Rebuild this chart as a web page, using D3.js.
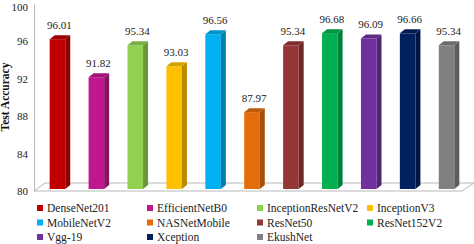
<!DOCTYPE html>
<html>
<head>
<meta charset="utf-8">
<script src="https://cdn.jsdelivr.net/npm/d3@7"></script>
<style>
  body { margin: 0; background: #fff; }
  svg { display: block; font-family: "Liberation Serif", "Times New Roman", serif; }
</style>
</head>
<body>
<svg id="chart"></svg>
<script>
const models = [
  "DenseNet201", "EfficientNetB0", "InceptionResNetV2", "InceptionV3",
  "MobileNetV2", "NASNetMobile", "ResNet50", "ResNet152V2",
  "Vgg-19", "Xception", "EkushNet"
];
const accuracy = [96.01, 91.82, 95.34, 93.03, 96.56, 87.97, 95.34, 96.68, 96.09, 96.66, 95.34];
const colors = [
  "#c00000", "#c0168f", "#92d050", "#ffc000",
  "#00b0f0", "#e46c0a", "#953735", "#00b050",
  "#7030a0", "#002060", "#808080"
];
const yTicks = [80, 84, 88, 92, 96, 100];

const width = 474;
const height = 244;
const dx = 5;   // depth offset of the 3D bars
const dy = 4;

const svg = d3.select("#chart").attr("width", width).attr("height", height);

// axis scale (front plane) and bar scale (plane where bars stand)
const yAxisScale = d3.scaleLinear().domain([80, 100]).range([191, 4]);
const yBar = d3.scaleLinear().domain([80, 100]).range([184.5, 3]);
const xScale = d3.scaleBand().domain(models).range([38, 466]).paddingInner(0.6).paddingOuter(0.3);

const data = models.map((m, i) => ({ name: m, value: accuracy[i], color: colors[i] }));

// floor
svg.append("path")
  .attr("d", "M34,191 L45,183 L474,183 M34,191 L462,191 L474,183")
  .attr("fill", "none")
  .attr("stroke", "#b8b8b8")
  .attr("stroke-width", 1);

// y axis
const yAxis = d3.axisLeft(yAxisScale).tickValues(yTicks).tickSize(0).tickPadding(6);
const gy = svg.append("g").attr("transform", "translate(34,0)").call(yAxis);
gy.select(".domain").attr("stroke", "#b8b8b8");
gy.selectAll("text").attr("font-size", 11).attr("fill", "#222").attr("font-family", "Liberation Serif, serif");
// keep the top label inside the picture
gy.selectAll(".tick text").filter((d) => d === 100).attr("dy", "0.62em");

svg.append("text")
  .attr("transform", "translate(9,97) rotate(-90)")
  .attr("text-anchor", "middle")
  .attr("font-size", 11.5)
  .attr("font-weight", "bold")
  .attr("fill", "#111")
  .text("Test Accuracy");

// bars
const bottom = 189;
const bars = svg.selectAll("g.bar").data(data).enter().append("g").attr("class", "bar");

bars.append("rect")
  .attr("x", (d) => xScale(d.name))
  .attr("y", (d) => yBar(d.value))
  .attr("width", xScale.bandwidth())
  .attr("height", (d) => bottom - yBar(d.value))
  .attr("fill", (d) => d.color);

bars.append("path")
  .attr("d", (d) => {
    const x1 = xScale(d.name) + xScale.bandwidth();
    const yt = yBar(d.value);
    return `M${x1},${yt} L${x1 + dx},${yt - dy} L${x1 + dx},${bottom - dy} L${x1},${bottom} Z`;
  })
  .attr("fill", (d) => d3.color(d.color).darker(0.9));

bars.append("path")
  .attr("d", (d) => {
    const x0 = xScale(d.name);
    const x1 = x0 + xScale.bandwidth();
    const yt = yBar(d.value);
    return `M${x0},${yt} L${x1},${yt} L${x1 + dx},${yt - dy} L${x0 + dx},${yt - dy} Z`;
  })
  .attr("fill", (d) => d3.color(d.color).darker(0.5));

bars.append("text")
  .attr("x", (d) => xScale(d.name) + xScale.bandwidth() / 2 + 2)
  .attr("y", (d) => yBar(d.value) - dy - 6)
  .attr("text-anchor", "middle")
  .attr("font-size", 11)
  .attr("fill", "#222")
  .text((d) => d.value.toFixed(2));

// legend
const legend = svg.selectAll("g.legend").data(data).enter().append("g")
  .attr("class", "legend")
  .attr("transform", (d, i) => `translate(${37 + (i % 4) * 110},${208 + Math.floor(i / 4) * 14.5})`);

legend.append("rect")
  .attr("x", 0).attr("y", -3)
  .attr("width", 6).attr("height", 6)
  .attr("fill", (d) => d.color);

legend.append("text")
  .attr("x", 10)
  .attr("y", 4)
  .attr("font-size", 11.5)
  .attr("fill", "#222")
  .text((d) => d.name);
</script>
</body>
</html>
